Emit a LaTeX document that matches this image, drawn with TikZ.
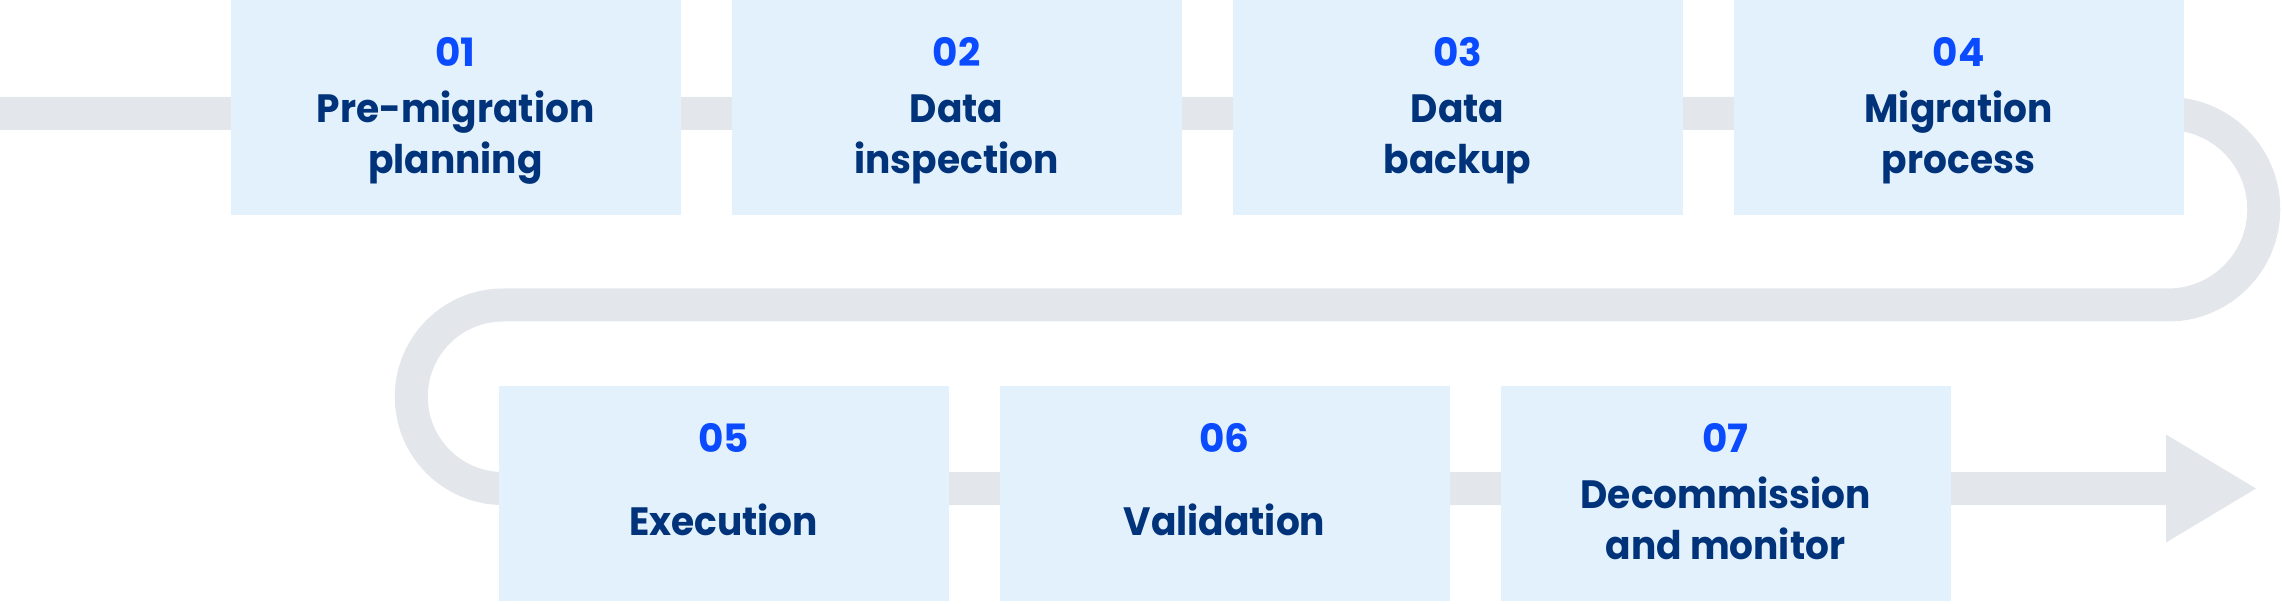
\documentclass[tikz,border=0pt]{standalone}
\usepackage{fontspec}
\setmainfont{Poppins}
\newfontfamily\ttlfont{Poppins}[FakeStretch=0.95]
\usetikzlibrary{calc}
\definecolor{band}{HTML}{E3E6EB}
\definecolor{boxfill}{HTML}{E3F1FD}
\definecolor{numblue}{HTML}{0A4BFF}
\definecolor{navy}{HTML}{00337A}
\begin{document}
\begin{tikzpicture}[x=1pt,y=1pt,
  stepbox/.style={rectangle, fill=boxfill, draw=none, minimum width=450pt, minimum height=215pt, inner sep=0pt},
  numtxt/.style={anchor=base, inner sep=0pt, text=numblue, font=\fontsize{39}{47}\selectfont\bfseries},
  ttltxt/.style={anchor=base, inner sep=0pt, text=navy, font=\ttlfont\fontsize{39.5}{47}\selectfont\bfseries},
  bandline/.style={draw=band, line width=33pt}]
\useasboundingbox (0,0) rectangle (2282,603);
% winding band
\coordinate (start) at (0,489.5);
\coordinate (finish) at (2168,114.5);
\draw[bandline] (start) -- (2168,489.5) arc[start angle=90, end angle=-90, radius=95.75]
  -- (503,298) arc[start angle=90, end angle=270, radius=91.75] -- (finish);
\fill[band] (2166,168.5) -- (2256,114.5) -- (2166,60.5) -- cycle;
% boxes
\node[stepbox] (b1) at (455.5,495.5) {};
\node[stepbox] (b2) at (956.5,495.5) {};
\node[stepbox] (b3) at (1457.5,495.5) {};
\node[stepbox] (b4) at (1958.5,495.5) {};
\node[stepbox] (b5) at (723.5,109.5) {};
\node[stepbox] (b6) at (1224.5,109.5) {};
\node[stepbox] (b7) at (1725.5,109.5) {};
% numbers
\foreach \b/\t in {b1/01,b2/02,b3/03,b4/04,b5/05,b6/06,b7/07}{
  \node[numtxt] (n\b) at ($(\b.north)+(0,-66.7)$) {\t};
}
% titles
\node[ttltxt] (t1a) at ($(b1.north)+(0,-122.7)$) {Pre-migration};
\node[ttltxt] (t1b) at ($(b1.north)+(0,-174)$) {planning};
\node[ttltxt] (t2a) at ($(b2.north)+(0,-122.7)$) {Data};
\node[ttltxt] (t2b) at ($(b2.north)+(0,-174)$) {inspection};
\node[ttltxt] (t3a) at ($(b3.north)+(0,-122.7)$) {Data};
\node[ttltxt] (t3b) at ($(b3.north)+(0,-174)$) {backup};
\node[ttltxt] (t4a) at ($(b4.north)+(0,-122.7)$) {Migration};
\node[ttltxt] (t4b) at ($(b4.north)+(0,-174)$) {process};
\node[ttltxt] (t5) at ($(b5.north)+(0,-149.5)$) {Execution};
\node[ttltxt] (t6) at ($(b6.north)+(0,-149.5)$) {Validation};
\node[ttltxt] (t7a) at ($(b7.north)+(0,-122.7)$) {Decommission};
\node[ttltxt] (t7b) at ($(b7.north)+(0,-174)$) {and monitor};
\end{tikzpicture}
\end{document}
